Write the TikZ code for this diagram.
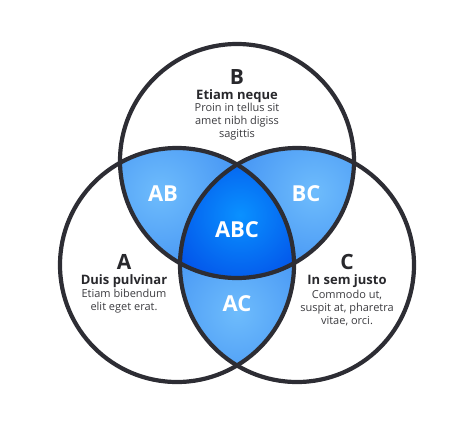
\documentclass[tikz,border=0pt]{standalone}
\usepackage{fontspec}
\setmainfont{Open Sans}
\definecolor{ringcol}{RGB}{45,45,52}
\definecolor{txtcol}{RGB}{40,40,44}
\definecolor{bodycol}{RGB}{60,60,64}
\definecolor{lightin}{RGB}{110,188,252}
\definecolor{lightout}{RGB}{50,130,240}
\definecolor{deepin}{RGB}{10,145,255}
\definecolor{deepout}{RGB}{0,60,225}
\tikzset{
  ring/.style={draw=ringcol, line width=4.2pt},
  biglet/.style={font=\fontsize{21}{24}\selectfont\bfseries, text=txtcol, inner sep=0pt},
  head/.style={font=\fontsize{13}{15}\selectfont\bfseries, text=txtcol, inner sep=0pt},
  body/.style={font=\fontsize{11}{13}\selectfont, text=bodycol, align=center, inner sep=0pt},
  zone/.style={font=\fontsize{22}{25}\selectfont\bfseries, text=white, inner sep=0pt}
}
\begin{document}
\begin{tikzpicture}[x=1pt,y=-1pt]
\useasboundingbox (0,0) rectangle (474,434);
\coordinate (cA) at (177,265);
\coordinate (cB) at (237,161);
\coordinate (cC) at (297,265);
% AB
\begin{scope}
\clip (cA) circle (117);
\clip (cB) circle (117);
\shade[inner color=lightin, outer color=lightout] (160,192) circle (125);
\end{scope}
% BC
\begin{scope}
\clip (cC) circle (117);
\clip (cB) circle (117);
\shade[inner color=lightin, outer color=lightout] (314,192) circle (125);
\end{scope}
% AC
\begin{scope}
\clip (cA) circle (117);
\clip (cC) circle (117);
\shade[inner color=lightin, outer color=lightout] (237,312) circle (125);
\end{scope}
% ABC
\begin{scope}
\clip (cA) circle (117);
\clip (cB) circle (117);
\clip (cC) circle (117);
\shade[inner color=deepin, outer color=deepout] (240,215) circle (105);
\end{scope}
\draw[ring] (cA) circle (117);
\draw[ring] (cB) circle (117);
\draw[ring] (cC) circle (117);
% labels
\node[biglet] (lB) at (237,77) {B};
\node[head] (hB) at (237,96) {Etiam neque};
\node[body] (tB) at (237,122) {Proin in tellus sit\\amet nibh digiss\\sagittis};
\node[biglet] (lA) at (124,262) {A};
\node[head] (hA) at (124,281) {Duis pulvinar};
\node[body] (tA) at (124,301) {Etiam bibendum\\elit eget erat.};
\node[biglet] (lC) at (347,262) {C};
\node[head] (hC) at (347,281) {In sem justo};
\node[body] (tC) at (347,308) {Commodo ut,\\suspit at, pharetra\\vitae, orci.};
\node[zone] (zAB) at (163,194) {AB};
\node[zone] (zBC) at (306,194) {BC};
\node[zone] (zABC) at (237,230) {ABC};
\node[zone] (zAC) at (237,304) {AC};
\end{tikzpicture}
\end{document}
